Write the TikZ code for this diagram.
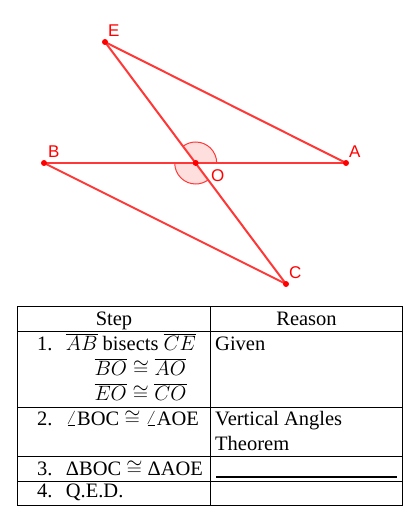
\documentclass[tikz,border=0pt]{standalone}
\usepackage{fontspec}
\setmainfont{Liberation Serif}
\newfontfamily\labelfont{Liberation Sans}
\definecolor{geored}{RGB}{255,55,55}
\definecolor{sectorfill}{RGB}{255,222,222}
\begin{document}
\begin{tikzpicture}[x=1pt,y=-1pt,
  geo/.style={draw=geored, line width=2pt},
  ptdot/.style={circle, fill=red, inner sep=0pt, minimum size=6pt},
  lbl/.style={text=red, font=\labelfont\fontsize{17}{19}\selectfont, inner sep=0pt, anchor=base west},
  txt/.style={anchor=base west, inner sep=0pt, font=\fontsize{20.5}{24}\selectfont},
  ctxt/.style={anchor=base, inner sep=0pt, font=\fontsize{20.5}{24}\selectfont},
  grid/.style={draw=black, line width=1pt}]
\useasboundingbox (0,0) rectangle (419,518);
% points
\coordinate (E) at (105,42);
\coordinate (B) at (44,163);
\coordinate (O) at (195.7,163);
\coordinate (A) at (346,163);
\coordinate (C) at (286,284);
% angle sectors
\fill[sectorfill] (O) -- ++(21,0) arc[start angle=0, end angle=-126.9, radius=21] -- cycle;
\fill[sectorfill] (O) -- ++(-21,0) arc[start angle=-180, end angle=-306.9, radius=21] -- cycle;
\draw[geored, line width=1pt] (O) ++(21,0) arc[start angle=0, end angle=-126.9, radius=21];
\draw[geored, line width=1pt] (O) ++(-21,0) arc[start angle=-180, end angle=-306.9, radius=21];
% segments
\draw[geo] (B) -- (A);
\draw[geo] (E) -- (C);
\draw[geo] (E) -- (A);
\draw[geo] (B) -- (C);
% dots
\node[ptdot] (dE) at (E) {};
\node[ptdot] (dB) at (B) {};
\node[ptdot] (dO) at (O) {};
\node[ptdot] (dA) at (A) {};
\node[ptdot] (dC) at (C) {};
% labels
\node[lbl] (lE) at (108,37) {E};
\node[lbl] (lB) at (48,158) {B};
\node[lbl] (lA) at (349,158) {A};
\node[lbl] (lO) at (211,182) {O};
\node[lbl] (lC) at (289,278) {C};
% table
\draw[grid] (17.3,306.7) rectangle (402.3,505);
\draw[grid] (210.7,306.7) -- (210.7,505);
\draw[grid] (17.3,331) -- (402.3,331);
\draw[grid] (17.3,407) -- (402.3,407);
\draw[grid] (17.3,456.3) -- (402.3,456.3);
\draw[grid] (17.3,481.7) -- (402.3,481.7);
\node[ctxt] (hstep) at (114,325) {Step};
\node[ctxt] (hreason) at (306.5,325) {Reason};
\node[txt] (n1) at (37,350) {1.};
\node[txt] (s1a) at (65.7,350) {$\overline{AB}$ bisects $\overline{CE}$};
\node[txt] (s1b) at (94.3,375) {$\overline{BO}\cong\overline{AO}$};
\node[txt] (s1c) at (94.3,400) {$\overline{EO}\cong\overline{CO}$};
\node[txt] (r1) at (215,350) {Given};
\node[txt] (n2) at (37,425) {2.};
\node[txt] (s2) at (65.7,425) {$\angle$BOC $\cong$ $\angle$AOE};
\node[txt] (r2a) at (215,425) {Vertical Angles};
\node[txt] (r2b) at (215,450.7) {Theorem};
\node[txt] (n3) at (37,475) {3.};
\node[txt] (s3) at (65.7,475) {ΔBOC $\cong$ ΔAOE};
\draw[line width=1.8pt] (216,476.7) -- (396.7,476.7);
\node[txt] (n4) at (37,497) {4.};
\node[txt] (s4) at (65.7,497) {Q.E.D.};
\end{tikzpicture}
\end{document}
